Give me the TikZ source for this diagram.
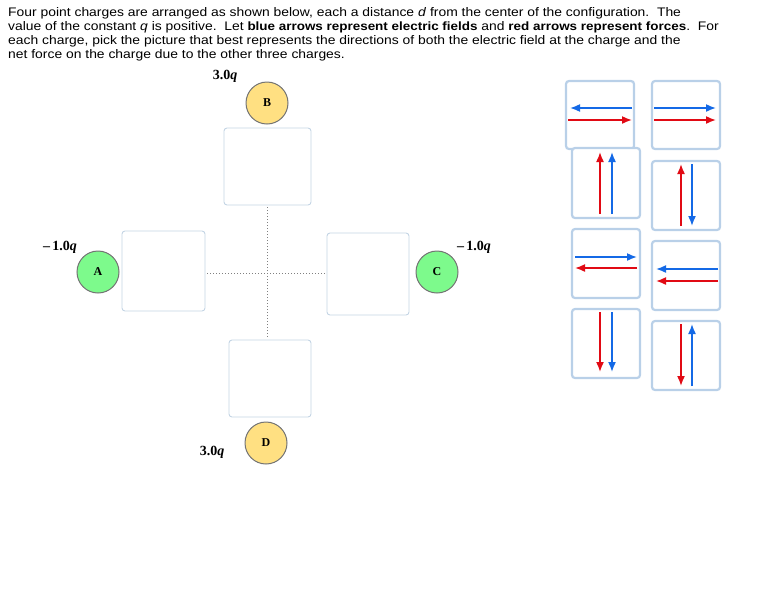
\documentclass[tikz,border=0pt]{standalone}
\usepackage{fontspec}
\setmainfont{Liberation Serif}
\newfontfamily\arial[FakeStretch=1.12]{Liberation Sans}
\usetikzlibrary{arrows.meta}
\definecolor{cardc}{RGB}{185,208,232}
\definecolor{eboxc}{RGB}{195,212,228}
\definecolor{fblue}{RGB}{20,105,230}
\definecolor{fred}{RGB}{225,10,20}
\definecolor{yel}{RGB}{255,224,130}
\definecolor{grn}{RGB}{125,250,140}
\begin{document}
\begin{tikzpicture}[x=1pt,y=-1pt,
  card/.style={draw=cardc,line width=2.2pt,rounded corners=3pt,fill=white},
  ebox/.style={draw=eboxc,line width=0.9pt,rounded corners=3pt},
  charge/.style={circle,draw=gray!90!black,line width=1pt,minimum size=42pt,inner sep=0pt,font=\bfseries\fontsize{12}{14}\selectfont},
  lab/.style={font=\bfseries\fontsize{14}{16}\selectfont},
  barr/.style={draw=fblue,line width=1.6pt,-{Latex[length=10pt,width=8pt]}},
  rarr/.style={draw=fred,line width=1.6pt,-{Latex[length=10pt,width=8pt]}},
  dots/.style={dotted,line width=1pt,gray}]
\useasboundingbox (0,0) rectangle (768,614);
\node[anchor=north west,align=left,inner sep=0pt,font=\arial\fontsize{12.4}{14}\selectfont] (txt) at (8,7)
{Four point charges are arranged as shown below, each a distance \textit{d} from the center of the configuration.\ \ The\\
value of the constant \textit{q} is positive.\ \ Let {\fontsize{12}{14}\selectfont\bfseries blue arrows represent electric fields} and {\fontsize{12}{14}\selectfont\bfseries red arrows represent forces}.\ \ For\\
each charge, pick the picture that best represents the directions of both the electric field at the charge and the\\
net force on the charge due to the other three charges.};
% dotted cross
\coordinate (vt) at (267,207); \coordinate (vb) at (267,338);
\coordinate (hl) at (207,273); \coordinate (hr) at (325,273);
\draw[dots] (vt) -- (vb);
\draw[dots] (hl) -- (hr);
% empty boxes
\draw[ebox] (224,128) rectangle (311,205);
\draw[ebox] (122,231) rectangle (205,311);
\draw[ebox] (327,233) rectangle (409,315);
\draw[ebox] (229,340) rectangle (311,417);
% charges
\node[charge,fill=yel] (B) at (267,103) {B};
\node[charge,fill=grn] (A) at (98,272) {A};
\node[charge,fill=grn] (C) at (437,272) {C};
\node[charge,fill=yel] (D) at (266,443) {D};
\node[lab] (lb) at (225,76) {3.0\textit{q}};
\node[lab] (la) at (60,247) {\textendash\,1.0\textit{q}};
\node[lab] (lc) at (474,247) {\textendash\,1.0\textit{q}};
\node[lab] (ld) at (212,452) {3.0\textit{q}};
% cards
\draw[card] (566,81) rectangle (634,149);
\draw[card] (652,81) rectangle (720,149);
\draw[card] (572,148) rectangle (640,218);
\draw[card] (652,161) rectangle (720,230);
\draw[card] (572,229) rectangle (640,298);
\draw[card] (652,241) rectangle (720,310);
\draw[card] (572,309) rectangle (640,378);
\draw[card] (652,321) rectangle (720,390);
% arrows
\draw[barr] (632,108) -- (570,108);
\draw[rarr] (568,120) -- (632,120);
\draw[barr] (654,108) -- (716,108);
\draw[rarr] (654,120) -- (716,120);
\draw[rarr] (600,214) -- (600,152);
\draw[barr] (612,214) -- (612,152);
\draw[rarr] (681,226) -- (681,164);
\draw[barr] (692,164) -- (692,226);
\draw[barr] (575,257) -- (637,257);
\draw[rarr] (637,268) -- (575,268);
\draw[barr] (718,269) -- (656,269);
\draw[rarr] (718,281) -- (656,281);
\draw[rarr] (600,312) -- (600,372);
\draw[barr] (612,312) -- (612,372);
\draw[rarr] (681,324) -- (681,386);
\draw[barr] (692,386) -- (692,324);
\end{tikzpicture}
\end{document}
